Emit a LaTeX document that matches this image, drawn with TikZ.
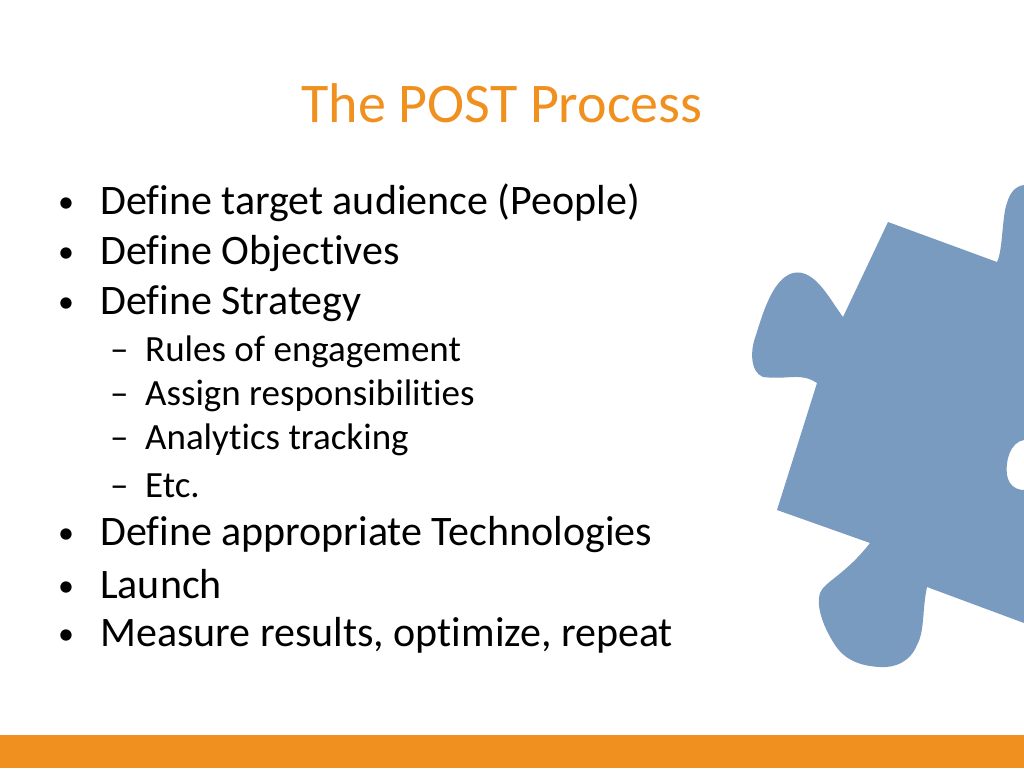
\documentclass[tikz,border=0pt]{standalone}
\usepackage{fontspec}
\setmainfont[Ligatures={NoCommon}]{Carlito}
\begin{document}
\begin{tikzpicture}[x=1pt,y=-1pt,
  bul/.style={anchor=west,inner sep=0pt,font=\fontsize{42}{46}\selectfont},
  sub/.style={anchor=west,inner sep=0pt,font=\fontsize{37}{40}\selectfont}]
\definecolor{orng}{HTML}{F0901E}
\definecolor{piece}{HTML}{7A9BC0}
\useasboundingbox (0,0) rectangle (1024,768);
\fill[white] (0,0) rectangle (1024,768);
\fill[orng] (0,735) rectangle (1024,768);
% puzzle piece
\fill[piece] (888,222) -- (997,262)
  .. controls (1003,250) and (1002,215) .. (1007,203)
  .. controls (1010,192) and (1016,186) .. (1024,185)
  -- (1024,440) .. controls (1010,442) and (1005,462) .. (1007,475)
  .. controls (1009,487) and (1018,490) .. (1024,490)
  -- (1024,623) -- (927,587)
  .. controls (922,610) and (925,630) .. (917,645)
  .. controls (910,662) and (895,668) .. (880,667)
  .. controls (860,666) and (845,660) .. (835,645)
  .. controls (822,625) and (816,605) .. (820,593)
  .. controls (824,582) and (845,575) .. (870,543)
  -- (777,510) -- (817,383)
  .. controls (800,372) and (790,380) .. (763,377)
  .. controls (750,372) and (750,350) .. (756,335)
  .. controls (765,305) and (775,278) .. (793,273)
  .. controls (815,268) and (830,300) .. (843,317) -- cycle;
\node[font=\fontsize{56}{60}\selectfont,text=orng] (title) at (502,103) {The POST Process};
\foreach \n/\y/\t in {b1/203/Define target audience (People), b2/254/Define Objectives, b3/304/Define Strategy, b4/535/Define appropriate Technologies, b5/584/Launch, b6/635/Measure results{,} optimize{,} repeat}{
  \node[bul] (\n) at (58,\y) {\makebox[42pt][l]{\raisebox{2pt}{\fontsize{32}{32}\selectfont •}}\t};
}
\foreach \n/\y/\t in {s1/352/Rules of engagement, s2/396/Assign responsibilities, s3/440/Analytics tracking, s4/486/Etc.}{
  \node[sub] (\n) at (110,\y) {\makebox[35pt][l]{–}\t};
}
\end{tikzpicture}
\end{document}
